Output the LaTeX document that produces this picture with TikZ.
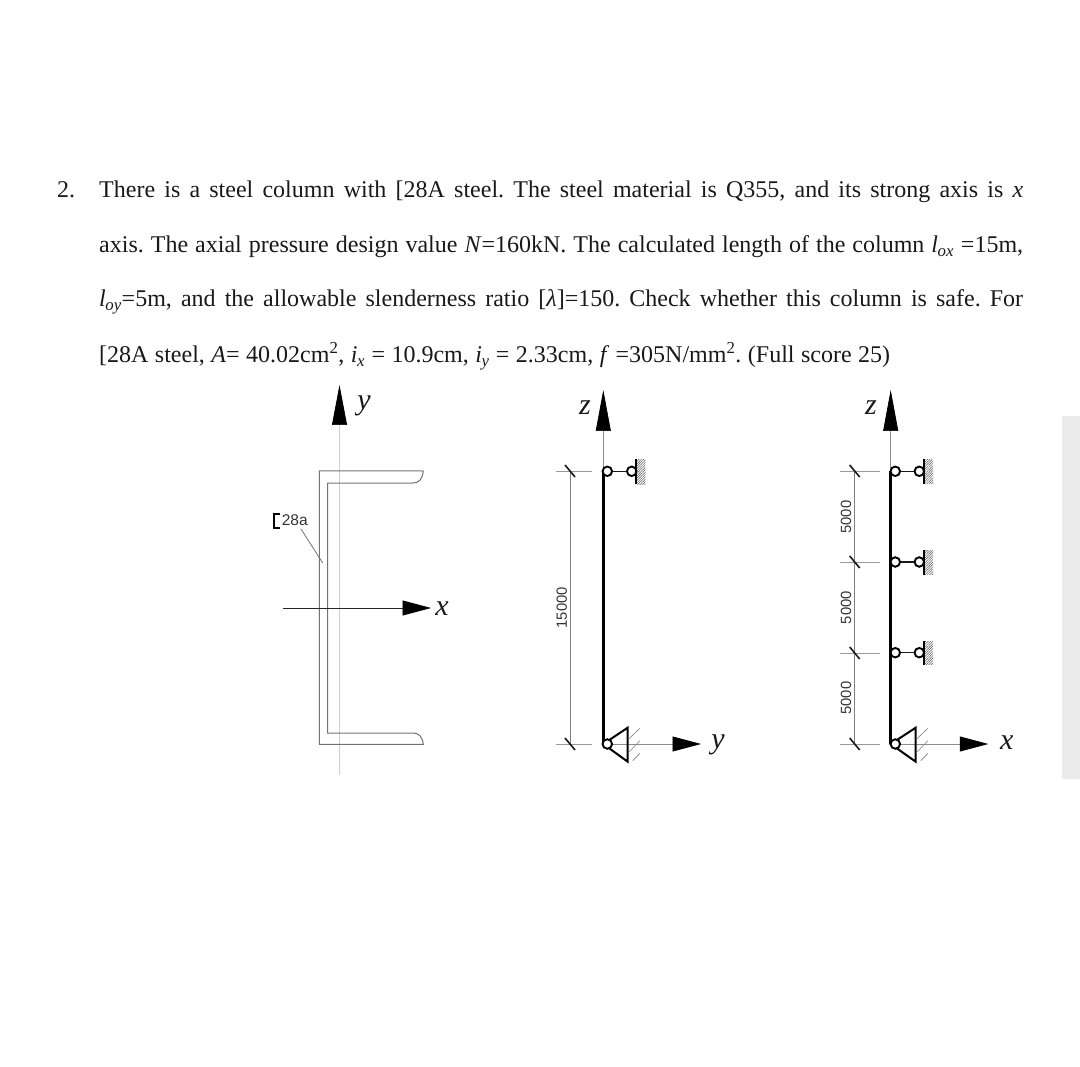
\documentclass[tikz,border=0pt]{standalone}
\usepackage{fontspec}
\setmainfont{Liberation Serif}
\newfontfamily\dimfont{Liberation Sans}
\usetikzlibrary{
	arrows.meta,        %arrow tips
	patterns.meta       %wall hatching
}
\newcommand{\bodysize}{\fontsize{24}{26}\selectfont\frenchspacing}
\newcommand{\ital}[1]{\textit{#1}}
\newcommand{\subit}[1]{\textsubscript{\kern-0.5pt\textit{#1}}}
\tikzset{
	every picture/.style={
		>=latex,
		x=1pt,y=-1pt
	},
	textline/.style={anchor=base west,inner sep=0pt,font=\bodysize,text=black!90},
	axislabel/.style={anchor=base,inner sep=0pt,font=\fontsize{30}{30}\selectfont\itshape,text=black!90},
	dimlabel/.style={inner sep=0pt,rotate=90,font=\dimfont\fontsize{14.8}{15}\selectfont,text=black!80},
	axisline/.style={draw=black!45,line width=0.7pt},
	axisarrow/.style={axisline,-{Triangle[black,length=28.5pt,width=15pt]}},
	axisup/.style={axisline,-{Triangle[black,length=41pt,width=15pt]}},
	steelline/.style={draw=black!55,line width=1pt},
	columnline/.style={draw=black,line width=2.6pt},
	linkline/.style={draw=black!90,line width=1.5pt},
	wallline/.style={draw=black,line width=2.2pt},
	hatchwall/.style={pattern={Lines[angle=45,distance=1.7pt,line width=0.5pt]},pattern color=black!65},
	pin/.style={circle,draw=black,fill=white,line width=1.9pt,minimum size=9.5pt,inner sep=0pt},
	extline/.style={draw=black!40,line width=0.7pt},
	dimline/.style={draw=black!50,line width=0.7pt},
	tickmark/.style={draw=black!90,line width=1.6pt},
	groundline/.style={draw=black!50,line width=0.6pt}
}
\begin{document}
\begin{tikzpicture}
\useasboundingbox (0,0) rectangle (1080,1067);
\fill[black!8] (1062,416) rectangle (1080,779);

% question text
\node[textline] (qnum) at (57,198) {2.};
\node[textline] (lineA) at (99,198) {\makebox[924pt][s]{There is a steel column with [28A steel. The steel material is Q355, and its strong axis is \ital{x}}};
\node[textline] (lineB) at (99,253) {\makebox[924pt][s]{axis. The axial pressure design value \ital{N}=160kN. The calculated length of the column \ital{l}\subit{ox} =15m,}};
\node[textline] (lineC) at (99,307) {\makebox[924pt][s]{\ital{l}\subit{oy}=5m, and the allowable slenderness ratio [\ital{λ}]=150. Check whether this column is safe. For}};
\node[textline] (lineD) at (99,362.5) {\makebox[791pt][s]{[28A steel, \ital{A}= 40.02cm\textsuperscript{2}, \ital{i}\subit{x} = 10.9cm, \ital{i}\subit{y} = 2.33cm, \ital{f} =305N/mm\textsuperscript{2}. (Full score 25)}};

% channel section
\coordinate (yS) at (339.5,775);
\coordinate (yE) at (339.5,385);
\coordinate (xS) at (283,608);
\coordinate (xE) at (431,608);
\draw[axisline,draw=black!20,-{Triangle[black,length=40pt,width=15pt]}] (yS) -- (yE);
\draw[steelline] (423.3,471) -- (319.3,471) -- (319.3,744.3) -- (423.3,744.3)
	.. controls (422.5,737) and (419,733) .. (413,733) -- (327.7,733) -- (327.7,483) -- (413,483)
	.. controls (419,483) and (422.5,479) .. (423.3,471);
\draw[draw=black!85,line width=0.8pt,-{Triangle[black,length=28.5pt,width=15pt]}] (xS) -- (xE);
\node[axislabel] (ylabA) at (364,409.5) {y};
\node[axislabel] (xlabA) at (442,615) {x};
\node[inner sep=0pt,font=\dimfont\fontsize{15.5}{16}\selectfont,text=black!80] (secname) at (294.7,520) {28a};
\draw[draw=black,line width=2pt] (280,513.5) -- (274,513.5) -- (274,527.5) -- (280,527.5);
\coordinate (leadS) at (301,529);
\coordinate (leadE) at (322.7,563);
\draw[draw=black!55,line width=0.8pt] (leadS) -- (leadE);

% column about x axis
\coordinate (colTopB) at (603.3,471);
\coordinate (colBotB) at (603.3,744);
\coordinate (zEndB) at (603.3,390);
\coordinate (yEndB) at (701,744);
\draw[axisup] (colTopB) -- (zEndB);
\draw[axisarrow] (colBotB) -- (yEndB);
\draw[columnline] (colTopB) -- (colBotB);
\node[axislabel] (zlabB) at (585,415) {z};
\node[axislabel] (ylabB) at (718,748.5) {y};
\node[pin] (pinBa) at (607.3,471.3) {};
\node[pin] (pinBb) at (631.7,471.3) {};
\draw[linkline] (pinBa) -- (pinBb);
\fill[hatchwall] (636.3,460) rectangle (645.3,484);
\draw[wallline] (636.3,459.3) -- (636.3,484);
\draw[columnline,line width=2pt,line join=miter] (colBotB) -- (627.7,727.7) -- (627.7,761.7) -- cycle;
\node[pin] (pinBc) at (607.3,744) {};
\draw[groundline] (628.3,739.3) -- (640,728.3);
\draw[groundline] (628,752.7) -- (640,740.7);
\draw[groundline] (632.7,760.7) -- (640,753.3);
\coordinate (dimBa) at (570,471);
\coordinate (dimBb) at (570,744);
\draw[dimline] (dimBa) -- (dimBb);
\foreach \yy in {471,744}{
	\draw[extline] (555.7,\yy) -- (591.7,\yy);
	\draw[tickmark] (570,\yy) ++(-5,-6) -- ++(10,12);
}
\node[dimlabel] (dimlabB) at (561.7,607.7) {15000};

% column about y axis
\coordinate (colTopC) at (890.7,471);
\coordinate (colBotC) at (890.7,744);
\coordinate (zEndC) at (890.7,390);
\coordinate (xEndC) at (988.3,744);
\draw[axisup] (colTopC) -- (zEndC);
\draw[axisarrow] (colBotC) -- (xEndC);
\draw[columnline] (colTopC) -- (colBotC);
\node[axislabel] (zlabC) at (871,415) {z};
\node[axislabel] (xlabC) at (1006.7,749) {x};
\foreach \yy/\nn in {471.3/a,562/b,652.7/c}{
	\node[pin] (pinC\nn) at (895.3,\yy) {};
	\node[pin] (wallC\nn) at (919.3,\yy) {};
	\draw[linkline] (pinC\nn) -- (wallC\nn);
	\fill[hatchwall] (924,\yy) ++(0,-11.5) rectangle ++(9,23.5);
	\draw[wallline] (924,\yy) ++(0,-12) -- ++(0,24.5);
}
\draw[columnline,line width=2pt,line join=miter] (colBotC) -- (915.7,727.7) -- (915.7,761.7) -- cycle;
\node[pin] (pinCd) at (895.3,744) {};
\draw[groundline] (916.3,739.3) -- (928,728.3);
\draw[groundline] (916,752.7) -- (928,740.7);
\draw[groundline] (920.7,760.7) -- (928,753.3);
\coordinate (dimCa) at (854.7,471);
\coordinate (dimCb) at (854.7,744);
\draw[dimline] (dimCa) -- (dimCb);
\foreach \yy in {471,562,653,744}{
	\draw[extline] (840,\yy) -- (880,\yy);
	\draw[tickmark] (854.7,\yy) ++(-5,-6) -- ++(10,12);
}
\node[dimlabel] (dimlabCa) at (846,517) {5000};
\node[dimlabel] (dimlabCb) at (846,607.7) {5000};
\node[dimlabel] (dimlabCc) at (846,698) {5000};
\end{tikzpicture}
\end{document}
